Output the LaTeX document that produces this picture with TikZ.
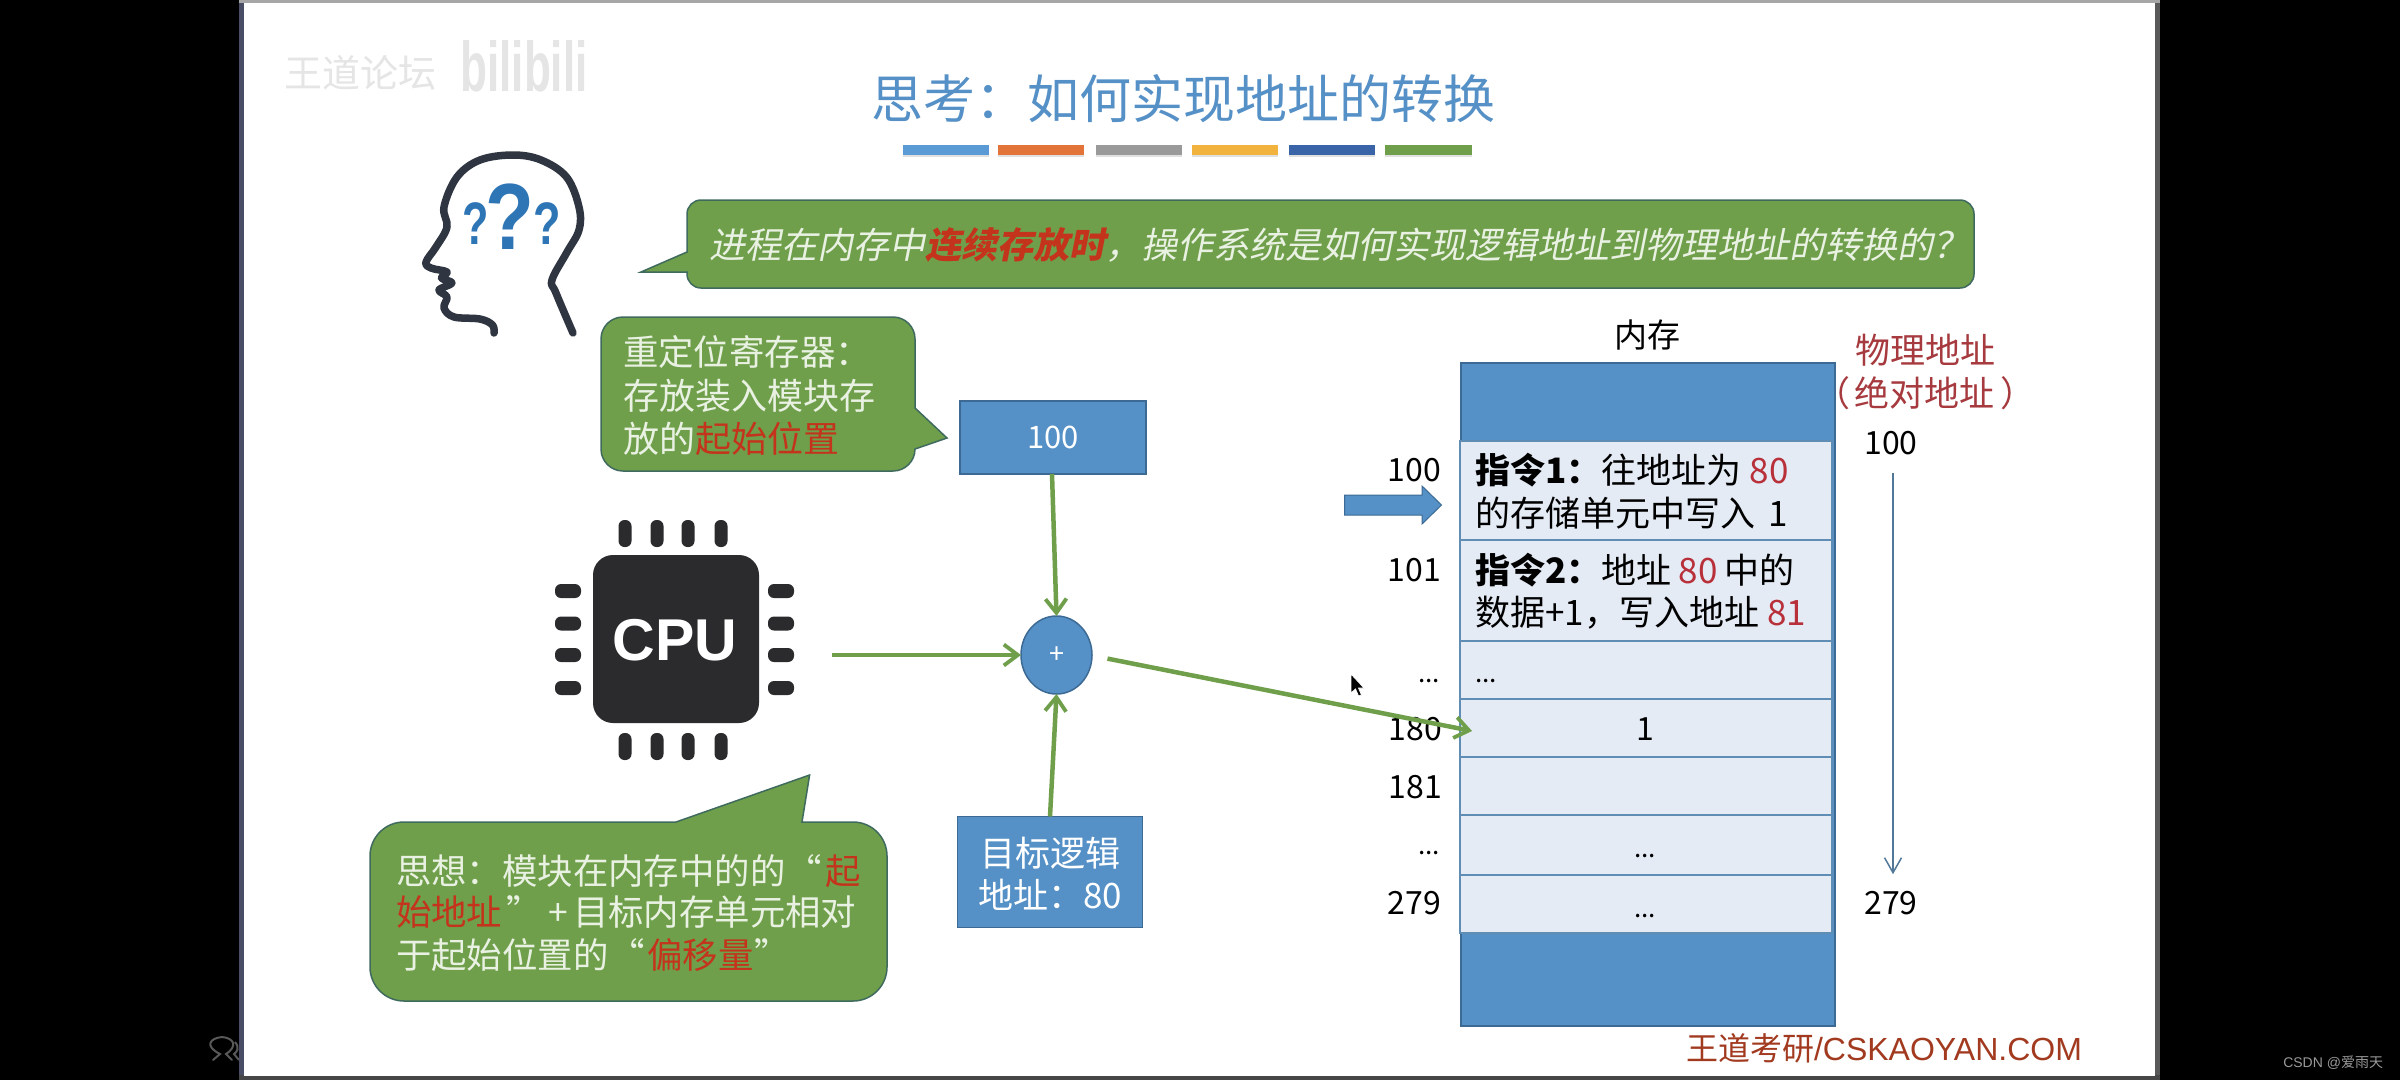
\documentclass[tikz,border=0pt]{standalone}
\usepackage{fontspec}
\setmainfont{Noto Sans CJK SC}
\newfontfamily\slantcjk[FakeSlant=0.2]{Noto Sans CJK SC}
\newfontfamily\arialish{Liberation Sans}
\usetikzlibrary{arrows.meta,shapes.geometric,calc}
\definecolor{slidegreen}{HTML}{6F9F4A}
\definecolor{edgegreen}{HTML}{3F6A5E}
\definecolor{slideblue}{HTML}{5590C6}
\definecolor{edgeblue}{HTML}{3C6A94}
\definecolor{rowfill}{HTML}{E4EBF5}
\definecolor{rowedge}{HTML}{5F8DB4}
\definecolor{lighttext}{HTML}{E9F1E2}
\definecolor{hot}{HTML}{C4341C}
\definecolor{numred}{HTML}{B8303A}
\definecolor{chip}{HTML}{2B2B2D}
\definecolor{maroon}{HTML}{A63A3E}
\definecolor{brand}{HTML}{A23A20}
\definecolor{qblue}{HTML}{2E75B6}
\definecolor{headline}{HTML}{2F3642}
\definecolor{leftstrip}{HTML}{4A4D66}
\newcommand{\pxf}[1]{\fontsize{#1}{#1}\selectfont}
\newcommand{\hotb}[1]{{\color{hot}\bfseries #1}}
\newcommand{\hotn}[1]{{\color{hot}#1}}
\newcommand{\redn}[1]{{\color{numred}#1}}
\tikzset{
  txt/.style={inner sep=0pt,outer sep=0pt},
  callout/.style={fill=slidegreen,draw=edgegreen,line width=1.5pt},
  bluebox/.style={fill=slideblue,draw=edgeblue,line width=1.5pt,inner sep=0pt,outer sep=0pt,text=white,align=center},
  rowbox/.style={fill=rowfill,draw=rowedge,line width=2pt,anchor=north west,inner sep=0pt,outer sep=0pt,minimum width=372.5pt},
  flow/.style={draw=slidegreen,line width=4.5pt,-{Straight Barb[length=14pt,width=21pt,line width=3.8pt]}},
  bartop/.style={minimum height=10pt,inner sep=0pt,outer sep=0pt,anchor=north west},
  pinv/.style={fill=chip,rounded corners=5pt},
  addr/.style={txt,anchor=east,font=\pxf{32}},
  bodytxt/.style={txt,anchor=west,font=\pxf{35}},
  calltxt/.style={txt,anchor=west,text=lighttext,font=\pxf{35.4}},
  qmark/.style={txt,text=qblue,font=\arialish\bfseries},
}
\begin{document}
\begin{tikzpicture}[x=1pt,y=-1pt]
\useasboundingbox (0,0) rectangle (2400,1080);
\fill[black] (0,0) rectangle (2400,1080);
% slide surround
\fill[leftstrip] (239,0) rectangle (244,1080);
\fill[gray!70!black] (2155,0) rectangle (2160,1080);
\fill[black!72] (239,1075) rectangle (2160,1080);
\fill[gray!70] (239,0) rectangle (2160,3);
\fill[white] (244,3) rectangle (2155,1075.5);
% presenter icon
\draw[gray!70!black,line width=2pt,line cap=round] (213,1060) -- (220,1054) .. controls (204,1046) and (210,1038) .. (222,1037) .. controls (234,1038) and (238,1046) .. (226,1054) -- (232,1060);
\draw[gray!70!black,line width=2pt] (235,1042) .. controls (240,1048) and (237,1052) .. (234,1054) -- (239,1060);
% watermark
\node[txt,text=black!10] (wmA) at (360,73) {\pxf{38}王道论坛};
\node[txt,text=black!10,yscale=1.6,font=\arialish\bfseries] (wmB) at (524,66) {\pxf{44}bilibili};
% title
\node[txt,text=slideblue] (title) at (1183,99) {\pxf{52}思考：如何实现地址的转换};
\foreach \n/\xa/\xb/\c in {a/903/989/5B9BD5,b/998/1084/E2743A,c/1096/1182/9A9A9A,d/1192/1278/F2B23E,e/1289/1375/3A64A8,f/1385/1472/6F9F4A}{
  \fill[black!12] (\xa,147) rectangle (\xb,157);
  \definecolor{barc}{HTML}{\c}
  \node[bartop,fill=barc,minimum width=\xb pt-\xa pt] (bar\n) at (\xa,145) {};
}
% head
\draw[line width=7.5pt,draw=headline,line cap=round,line join=round] plot[smooth,tension=0.6] coordinates {(573,333) (556,293) (552,280) (566.5,253) (579,230) (579,207) (566.5,177) (541,160) (513,155) (480,160) (457,177) (444,207) (447,227) (436,247) (426,262) (431,268) (447,272) (441.5,278) (452,283) (439,290) (447,297) (444,308) (454,317) (480,319) (492.5,325) (494,333)};
\node[qmark,xscale=0.72] (qa) at (476,224) {\pxf{60}?};
\node[qmark,xscale=0.85] (qb) at (510,217) {\pxf{94}?};
\node[qmark,xscale=0.75] (qc) at (547.5,224) {\pxf{60}?};
% top callout
\draw[callout] (687,252) [rounded corners=14pt] -- (687,200) -- (1974,200) -- (1974,288) -- (687,288) [sharp corners] -- (687,272) -- (641,272) -- cycle;
\node[txt,anchor=west,text=lighttext] (qtext) at (709,245) {\slantcjk\pxf{36}进程在内存中\hotb{连续存放时}，操作系统是如何实现逻辑地址到物理地址的转换的？};
% register callout
\draw[callout] (915,408) [rounded corners=22pt] -- (915,317) -- (601,317) -- (601,471) -- (915,471) [sharp corners] -- (915,449) -- (947,438) -- cycle;
\node[calltxt] (regA) at (623,352) {重定位寄存器：};
\node[calltxt,font=\pxf{36}] (regB) at (623,396) {存放装入模块存};
\node[calltxt,font=\pxf{36}] (regC) at (623,439) {放的\hotn{起始位置}};
% register box
\node[bluebox,minimum width=186pt,minimum height=73pt,font=\pxf{31}] (reg) at (1053,437.5) {100};
% cpu
\fill[chip,rounded corners=20pt] (593,555) rectangle (759,723);
\node[txt,text=white,font=\arialish\bfseries] (cpu) at (675,640) {\pxf{59}CPU};
\coordinate (cpuout) at (832,655);
\foreach \x in {625,657,688,721}{
  \fill[pinv,rounded corners=6pt] (\x-6.5,520) rectangle (\x+6.5,547);
  \fill[pinv,rounded corners=6pt] (\x-6.5,733) rectangle (\x+6.5,760);
}
\foreach \y in {591,623.5,655,688}{
  \fill[pinv,rounded corners=6pt] (555,\y-7) rectangle (581,\y+7);
  \fill[pinv,rounded corners=6pt] (768,\y-7) rectangle (794,\y+7);
}
% adder
\node[ellipse,fill=slideblue,draw=edgeblue,line width=1.5pt,minimum width=71pt,minimum height=78pt,inner sep=0pt,outer sep=0pt,text=white,font=\pxf{27}] (adder) at (1056.5,655) {+};
% target box
\node[bluebox,minimum width=185pt,minimum height=111pt] (target) at (1050,872) {};
\node[txt,text=white,font=\pxf{35}] (tgA) at (1050,853) {目标逻辑};
\node[txt,text=white,font=\pxf{35}] (tgB) at (1050,895) {地址：80};
% think callout
\draw[callout] (676,822) [rounded corners=34pt] -- (370,822) -- (370,1001) -- (887,1001) -- (887,822) [sharp corners] -- (802,822) -- (809.6,775) -- cycle;
\node[calltxt] (thA) at (396,871) {思想：模块在内存中的的\makebox[40pt][r]{“\hspace{3pt}}\hotn{起}};
\node[calltxt] (thB) at (396,912) {\hotn{始地址}\makebox[71pt][l]{\hspace{4pt}”\hfill+\hspace{5pt}}目标内存单元相对};
\node[calltxt] (thC) at (396,955) {于起始位置的\makebox[39pt][r]{“\hspace{2pt}}\hotn{偏移量}\hspace{1pt}”};
% memory
\node[fill=slideblue,draw=edgeblue,line width=1.5pt,anchor=north west,minimum width=374pt,minimum height=663pt,inner sep=0pt,outer sep=0pt] (mem) at (1461,363) {};
\node[rowbox,minimum height=99pt] (r1) at (1459.5,441) {};
\node[rowbox,minimum height=101pt] (r2) at (1459.5,540) {};
\node[rowbox,minimum height=58pt] (r3) at (1459.5,641) {};
\node[rowbox,minimum height=58pt] (r4) at (1459.5,699) {};
\node[rowbox,minimum height=58pt] (r5) at (1459.5,757) {};
\node[rowbox,minimum height=59.5pt] (r6) at (1459.5,815) {};
\node[rowbox,minimum height=58.5pt] (r7) at (1459.5,874.5) {};
\node[txt,font=\pxf{33}] (memlab) at (1647,335) {内存};
\node[txt,font=\pxf{35},text=maroon] (phyA) at (1925,350) {物理地址};
\node[txt,font=\pxf{35},text=maroon] (phyB) at (1925,393) {（\hspace{5pt}绝对地址\hspace{5pt}）};
% row text
\node[bodytxt] (t1a) at (1475.5,470) {\textbf{指令1：}往地址为\hspace{8pt}\redn{80}};
\node[bodytxt] (t1b) at (1475.5,513) {的存储单元中写入\hspace{13pt}1};
\node[bodytxt] (t2a) at (1475.5,570) {\textbf{指令2：}地址\hspace{7pt}\redn{80}\hspace{7pt}中的};
\node[bodytxt] (t2b) at (1475.5,613) {数据+1，写入地址\hspace{8pt}\redn{81}};
\node[txt,anchor=west,font=\pxf{26}] (t3) at (1475.5,681) {...};
\node[txt,font=\pxf{32}] (t4) at (1645,729) {1};
\node[txt,font=\pxf{26}] (t6) at (1645,856) {...};
\node[txt,font=\pxf{26}] (t7) at (1645,916) {...};
% addresses
\node[addr] (a100) at (1441,470) {100};
\node[addr] (a101) at (1441,570) {101};
\node[addr,font=\pxf{26}] (adots) at (1440,681) {...};
\node[addr] (a180) at (1442,729) {180};
\node[addr] (a181) at (1442,787) {181};
\node[addr,font=\pxf{26}] (adots2) at (1440,853) {...};
\node[addr] (a279) at (1441,903) {279};
\node[txt,font=\pxf{32}] (p100) at (1891,443) {100};
\node[txt,font=\pxf{32}] (p279) at (1891,903) {279};
\draw[draw=rowedge!85!black,line width=1.5pt,-{Straight Barb[length=15pt,width=17pt,line width=1.5pt]}] ($(p100.south)+(2,18)$) -- ($(p279.north)+(2,-17)$);
% pc block arrow
\fill[slideblue,draw=edgeblue,line width=1pt] (1344.5,495) -- (1422,495) -- (1422,486) -- (1441.5,505) -- (1422,524) -- (1422,515) -- (1344.5,515) -- cycle;
% flows
\draw[flow] ($(reg.south)+(-1,0)$) -- (adder.north);
\draw[flow] (cpuout) -- (adder.west);
\draw[flow] (target.north) -- (adder.south);
\coordinate (cell) at (1472,731);
\coordinate (adderout) at (1107.5,658.6);
\draw[flow] (adderout) -- (cell);
% cursor
\fill[black,draw=white,line width=0.8pt] (1351,674) -- (1351,693) -- (1355.5,689) -- (1358.5,696) -- (1361.5,695) -- (1358.5,688) -- (1364,688) -- cycle;
% brand
\node[txt,anchor=west,text=brand] (brand) at (1686,1048) {\pxf{32}王道考研{\arialish /CSKAOYAN.COM}};
\node[txt,anchor=east,text=black!40!white] (csdn) at (2383,1063) {\pxf{14}{\arialish CSDN @}爱雨天};
\end{tikzpicture}
\end{document}
